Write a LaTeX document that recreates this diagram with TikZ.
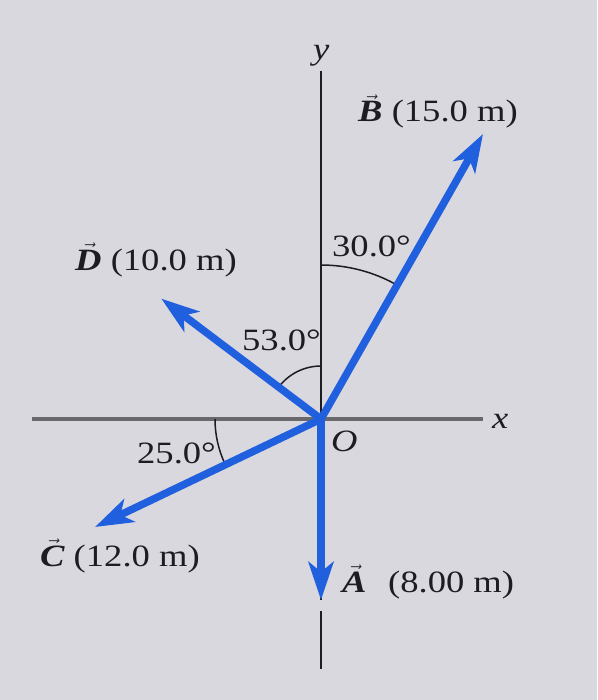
\documentclass[tikz,border=0pt]{standalone}
\usepackage{fontspec}
\setmainfont[FakeStretch=1.18]{Liberation Serif}
\usetikzlibrary{arrows.meta,calc}
\definecolor{bg}{RGB}{216,216,222}
\definecolor{vecblue}{RGB}{32,96,222}
\definecolor{ink}{RGB}{30,28,35}
\definecolor{axisgray}{RGB}{105,105,108}
\newcommand{\vv}[1]{\ensuremath{\vec{\hbox{\bfseries\itshape #1}}}}
\begin{document}
\begin{tikzpicture}[x=1pt,y=-1pt,
  vecarrow/.style={line width=7.5pt, vecblue, -{Stealth[length=38pt,width=25pt,inset=10pt]}},
  lbl/.style={text=ink, inner sep=0pt, anchor=base west, font=\fontsize{31}{36}\selectfont},
  anglearc/.style={ink, line width=1.5pt}]
  \fill[bg] (0,0) rectangle (597,700);
  \useasboundingbox (0,0) rectangle (597,700);
  % points
  \coordinate (O) at (321,419);
  \coordinate (Atip) at (321,600);
  \coordinate (Btip) at (483,134);
  \coordinate (Ctip) at (95,527);
  \coordinate (Dtip) at ($(O)+(143:200pt)$);
  \coordinate (ytop) at (321,71);
  \coordinate (ybot1) at (321,600);
  \coordinate (ybot2a) at (321,611);
  \coordinate (ybot2b) at (321,669);
  \coordinate (xleft) at (32,419);
  \coordinate (xright) at (483,419);
  % axes
  \draw[axisgray, line width=3.5pt] (xleft) -- (xright);
  \draw[ink, line width=1.8pt] (ytop) -- (ybot1);
  \draw[ink, line width=1.8pt] (ybot2a) -- (ybot2b);
  % angle arcs
  \draw[anglearc] ([shift={(90:154pt)}]O) arc[start angle=90, end angle=60, radius=154pt];
  \draw[anglearc] ([shift={(90:53pt)}]O) arc[start angle=90, end angle=143, radius=53pt];
  \draw[anglearc] ([shift={(180:106pt)}]O) arc[start angle=180, end angle=205, radius=106pt];
  % vectors
  \draw[vecarrow] (O) -- (Atip);
  \draw[vecarrow] (O) -- (Btip);
  \draw[vecarrow] (O) -- (Ctip);
  \draw[vecarrow] (O) -- (Dtip);
  % labels
  \node[lbl] (ylab) at (313,60) {\itshape y};
  \node[lbl] (xlab) at (492,428) {\itshape x};
  \node[lbl] (Olab) at (331,451) {\itshape O};
  \node[lbl] (Blab) at (358,122) {\vv{B} (15.0 m)};
  \node[lbl] (Dlab) at (75,270) {\vv{D} (10.0 m)};
  \node[lbl] (Clab) at (40,566) {\vv{C} (12.0 m)};
  \node[lbl] (Alab) at (342,592) {\vv{A}\hspace{0.4em} (8.00 m)};
  \node[lbl] (a30) at (332,256) {30.0°};
  \node[lbl] (a53) at (242,350) {53.0°};
  \node[lbl] (a25) at (137,463) {25.0°};
\end{tikzpicture}
\end{document}
